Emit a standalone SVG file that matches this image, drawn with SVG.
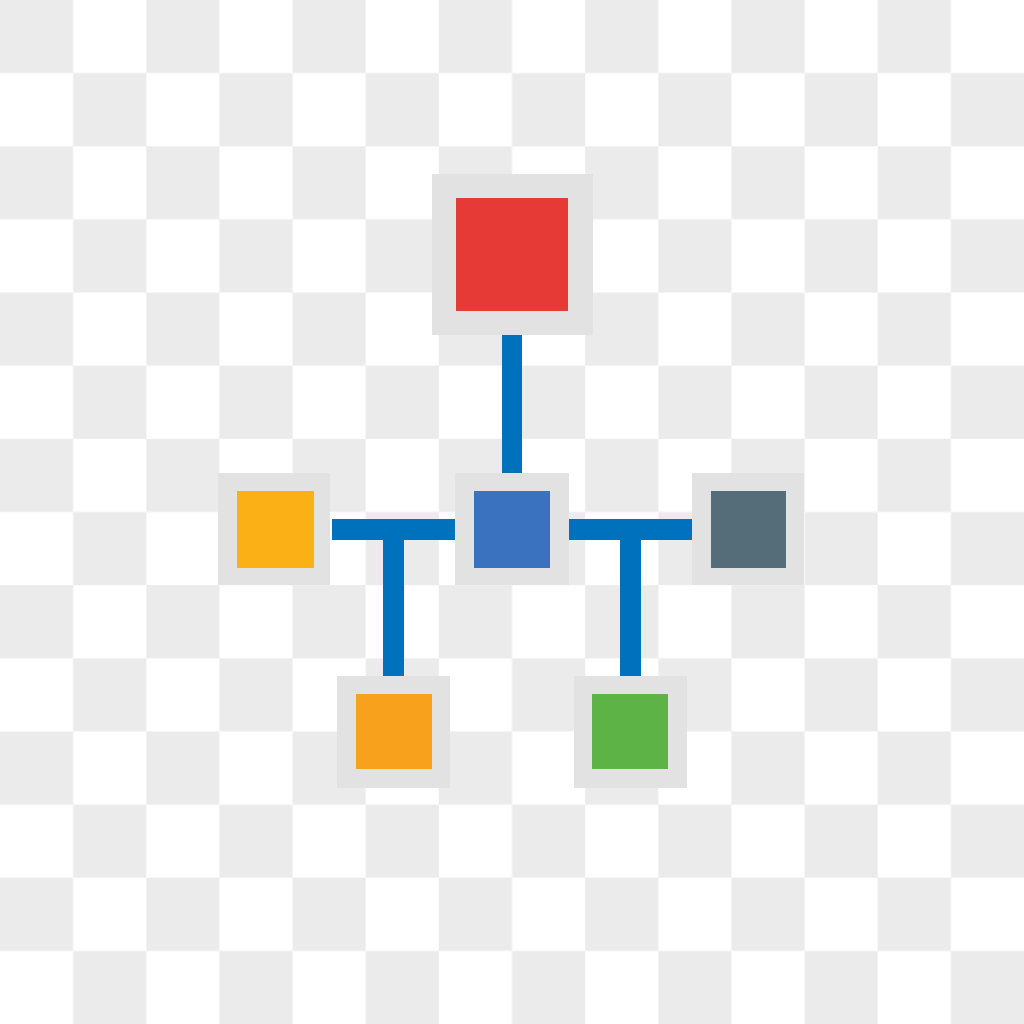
<svg xmlns="http://www.w3.org/2000/svg" width="1024" height="1024" viewBox="0 0 1024 1024">
<defs>
<pattern id="checker" x="0" y="0" width="146.2857" height="146.2857" patternUnits="userSpaceOnUse">
<rect x="0" y="0" width="146.2857" height="146.2857" fill="#ffffff"/>
<rect x="0" y="0" width="73.1429" height="73.1429" fill="#ebebeb"/>
<rect x="73.1429" y="73.1429" width="73.1429" height="73.1429" fill="#ebebeb"/>
</pattern>
<style>
.frame{fill:#e2e2e2}
.link{fill:#0071bc}
</style>
</defs>
<rect x="0" y="0" width="1024" height="1024" fill="url(#checker)"/>
<g id="connectors">
<rect class="link" x="502" y="335" width="20" height="138"/>
<rect class="link" x="332" y="519" width="124" height="21"/>
<rect class="link" x="383" y="540" width="21" height="136"/>
<rect class="link" x="569" y="519" width="123" height="21"/>
<rect class="link" x="620" y="540" width="21" height="136"/>
</g>
<g id="node-red">
<rect class="frame" x="432" y="174" width="161" height="161"/>
<rect x="456" y="198" width="112" height="113" fill="#e53a36"/>
</g>
<g id="node-yellow">
<rect class="frame" x="218" y="473" width="112" height="112"/>
<rect x="237" y="491" width="77" height="77" fill="#fbb116"/>
</g>
<g id="node-blue">
<rect class="frame" x="455" y="473" width="114" height="112"/>
<rect x="474" y="491" width="76" height="77" fill="#3a72bf"/>
</g>
<g id="node-slate">
<rect class="frame" x="692" y="473" width="112" height="112"/>
<rect x="711" y="491" width="75" height="77" fill="#546d79"/>
</g>
<g id="node-orange">
<rect class="frame" x="337" y="676" width="113" height="112"/>
<rect x="356" y="694" width="76" height="75" fill="#f7a11d"/>
</g>
<g id="node-green">
<rect class="frame" x="574" y="676" width="113" height="112"/>
<rect x="592" y="694" width="76" height="75" fill="#5db346"/>
</g>
</svg>
